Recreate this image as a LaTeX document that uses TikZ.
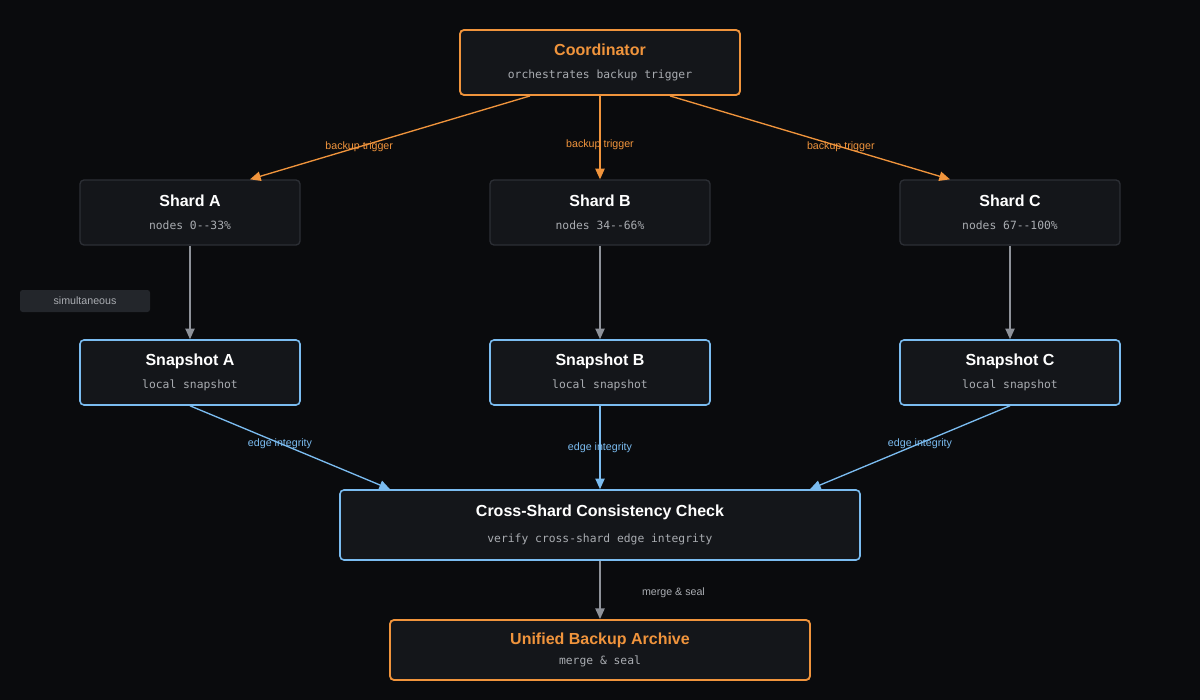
\documentclass[tikz,border=0pt]{standalone}
\usepackage{fontspec}
\setmainfont{Liberation Sans}
\newfontfamily\monof{DejaVu Sans Mono}
\usetikzlibrary{arrows.meta,calc}
\definecolor{bgc}{HTML}{0A0B0D}
\definecolor{boxc}{HTML}{14161A}
\definecolor{edgec}{HTML}{2C2F35}
\definecolor{orng}{HTML}{F0943C}
\definecolor{blu}{HTML}{7BBCF0}
\definecolor{gry}{HTML}{8E9299}
\definecolor{subc}{HTML}{A9ACB1}
\definecolor{pillc}{HTML}{23262B}
\newcommand{\ttl}[2][white]{{\fontsize{12}{14}\selectfont\bfseries\color{#1}#2}}
\newcommand{\subt}[1]{{\monof\fontsize{8.5}{10}\selectfont\color{subc}#1}}
\tikzset{
  box/.style={draw=edgec, fill=boxc, rounded corners=3pt, line width=1pt, align=center, inner sep=0pt},
  obox/.style={box, draw=orng, line width=1.4pt},
  bbox/.style={box, draw=blu, line width=1.2pt},
  lbl/.style={font=\fontsize{8}{10}\selectfont, inner sep=1pt},
  oarr/.style={draw=orng, line width=1pt, -{Triangle[length=8pt,width=7pt]}},
  barr/.style={draw=blu, line width=1pt, -{Triangle[length=8pt,width=7pt]}},
  garr/.style={draw=gry, line width=1pt, -{Triangle[length=8pt,width=7pt]}}
}
\begin{document}
\begin{tikzpicture}[x=0.75pt,y=0.75pt,yscale=-1,xscale=1]
\fill[bgc] (0,0) rectangle (1200,700);
\useasboundingbox (0,0) rectangle (1200,700);

% Coordinator
\node[obox, minimum width=210pt, minimum height=48.75pt] (coord) at (600,62.5) {\ttl[orng]{Coordinator}\\[5pt]\subt{orchestrates backup trigger}};
% Shards
\foreach \nm/\x/\rng in {A/190/0--33\%, B/600/34--66\%, C/1010/67--100\%}{
  \node[box, minimum width=165pt, minimum height=48.75pt] (shard\nm) at (\x,212.5) {\ttl{Shard \nm}\\[5pt]\subt{nodes \rng}};
  \node[bbox, minimum width=165pt, minimum height=48.75pt] (snap\nm) at (\x,372.5) {\ttl{Snapshot \nm}\\[5pt]\subt{local snapshot}};
  \draw[garr] (shard\nm.south) -- (snap\nm.north);
}
% Check and archive
\node[bbox, minimum width=390pt, minimum height=52.5pt] (check) at (600,525) {\ttl{Cross-Shard Consistency Check}\\[7pt]\subt{verify cross-shard edge integrity}};
\node[obox, minimum width=315pt, minimum height=45pt] (arch) at (600,650) {\ttl[orng]{Unified Backup Archive}\\[3pt]\subt{merge \& seal}};
% Pill
\node[fill=pillc, rounded corners=2pt, minimum width=97.5pt, minimum height=16.5pt, inner sep=0pt, text=subc, font=\fontsize{8}{10}\selectfont] (simul) at (85,301) {simultaneous};

% Triggers
\draw[oarr] ($(coord.south)+(-70,0)$) -- node[lbl, text=orng, pos=0.61] {backup trigger} ($(shardA.north)+(60,0)$);
\draw[oarr] (coord.south) -- node[lbl, text=orng, pos=0.58] {backup trigger} (shardB.north);
\draw[oarr] ($(coord.south)+(70,0)$) -- node[lbl, text=orng, pos=0.61] {backup trigger} ($(shardC.north)+(-60,0)$);
% Integrity
\draw[barr] (snapA.south) -- node[lbl, text=blu, pos=0.45] {edge integrity} ($(check.north)+(-210,0)$);
\draw[barr] (snapB.south) -- node[lbl, text=blu, pos=0.5] {edge integrity} (check.north);
\draw[barr] (snapC.south) -- node[lbl, text=blu, pos=0.45] {edge integrity} ($(check.north)+(210,0)$);
% Merge
\draw[garr] (check.south) -- node[lbl, text=subc, right=30pt, pos=0.55] {merge \& seal} (arch.north);
\end{tikzpicture}
\end{document}
